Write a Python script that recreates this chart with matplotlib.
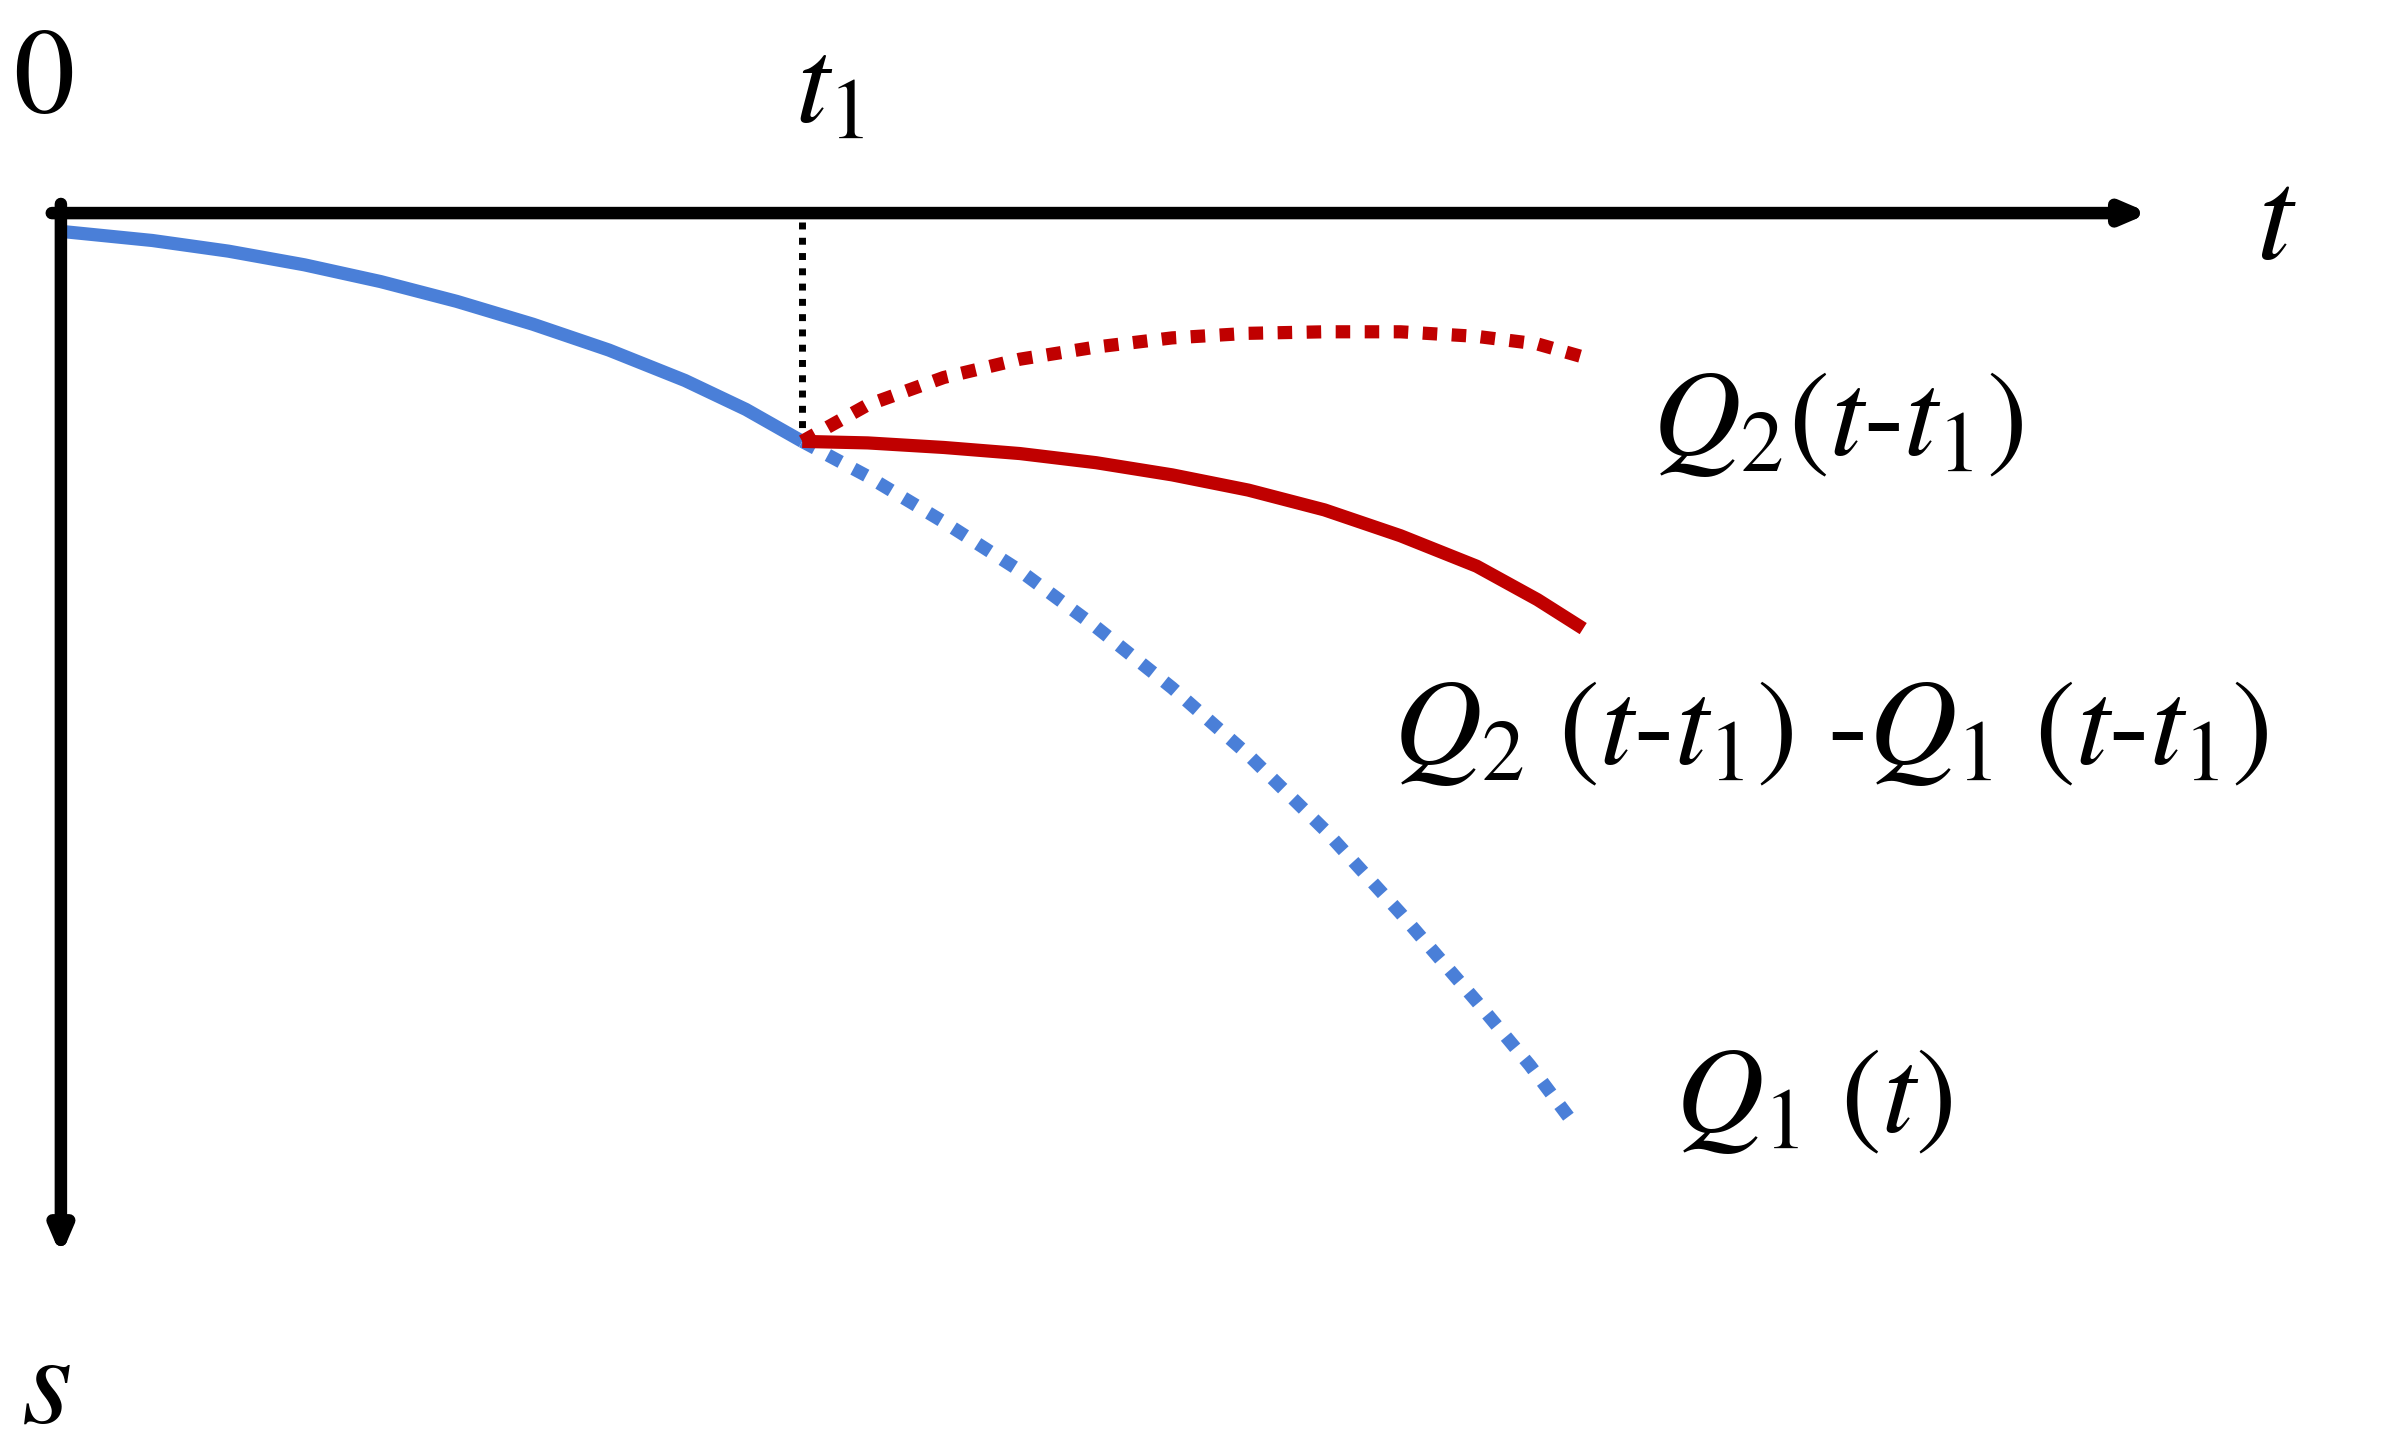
import matplotlib
matplotlib.use("Agg")
import matplotlib.pyplot as plt

plt.rcParams['mathtext.fontset'] = 'stix'
plt.rcParams['font.family'] = 'STIXGeneral'

# curve points (picture pixel coords, y downward)
blue_solid_x = [40, 100, 150, 200, 250, 300, 350, 400, 450, 490, 527]
blue_solid_y = [152, 158, 165, 174, 185, 198, 213, 230, 250, 269, 290]
blue_dot_x = [527, 570, 620, 670, 720, 770, 820, 870, 920, 970, 1005, 1035]
blue_dot_y = [290, 313, 343, 375, 412, 452, 496, 545, 600, 658, 700, 740]
red_solid_x = [527, 570, 620, 670, 720, 770, 820, 870, 920, 970, 1010, 1040]
red_solid_y = [290, 291, 294, 298, 304, 312, 322, 335, 352, 372, 394, 413]
red_dot_x = [527, 570, 620, 670, 720, 770, 820, 870, 920, 970, 1010, 1045]
red_dot_y = [290, 266, 248, 236, 228, 222, 219, 218, 218, 221, 226, 236]
t1_x = 527

W, H = 1568, 954
fig = plt.figure(figsize=(23.87, 14.52), dpi=100)
ax = fig.add_axes([0, 0, 1, 1])
ax.set_xlim(0, W)
ax.set_ylim(H, 0)
ax.axis('off')

blue = '#4a7fd8'
red = '#c00000'
lw = 9.5

# axes arrows
ax.annotate('', xy=(1412, 140), xytext=(34, 140),
            arrowprops=dict(arrowstyle='-|>,head_length=1.4,head_width=0.6', lw=9, color='black', shrinkA=0, shrinkB=0))
ax.annotate('', xy=(40, 825), xytext=(40, 134),
            arrowprops=dict(arrowstyle='-|>,head_length=1.4,head_width=0.6', lw=9, color='black', shrinkA=0, shrinkB=0))

ax.plot([t1_x, t1_x], [146, 290], color='black', lw=5, ls=(0, (1, 1.2)))
ax.plot(blue_solid_x, blue_solid_y, color=blue, lw=lw, solid_capstyle='butt')
ax.plot(blue_dot_x, blue_dot_y, color=blue, lw=lw, ls=(0, (1.1, 1.1)))
ax.plot(red_solid_x, red_solid_y, color=red, lw=lw, solid_capstyle='butt')
ax.plot(red_dot_x, red_dot_y, color=red, lw=lw, ls=(0, (1.1, 1.1)))

fs = 88
ax.text(28, 55, r'$\mathit{0}$', fontsize=fs, ha='center', va='center')
ax.text(545, 62, r'$t_{\mathit{1}}$', fontsize=fs, ha='center', va='center')
ax.text(1495, 150, r'$\mathbf{\mathit{t}}$', fontsize=fs + 6, ha='center', va='center')
ax.text(30, 915, r'$\mathbf{\mathit{s}}$', fontsize=fs + 6, ha='center', va='center')
ax.text(1085, 280, r'$Q_{\mathit{2}}(t$-$t_{\mathrm{1}})$', fontsize=fs, ha='left', va='center')
ax.text(915, 483, r'$Q_{\mathit{2}}\ (t$-$t_{\mathrm{1}})$ -$Q_{\mathrm{1}}\ (t$-$t_{\mathrm{1}})$', fontsize=fs, ha='left', va='center')
ax.text(1100, 725, r'$Q_{\mathrm{1}}\ (t)$', fontsize=fs, ha='left', va='center')

fig.savefig('out.png', dpi=100)
